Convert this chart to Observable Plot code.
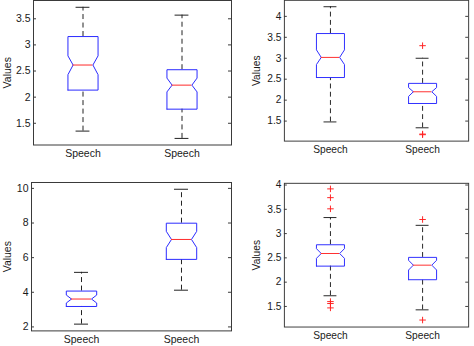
<!DOCTYPE html>
<html><head><meta charset="utf-8">
<script src="https://cdn.jsdelivr.net/npm/d3@7"></script>
<script src="https://cdn.jsdelivr.net/npm/@observablehq/plot@0.6"></script>
<style>
body{margin:0;background:#fff;}
#chart{position:relative;width:474px;height:346px;overflow:hidden;background:#fff;}
#chart > div{position:absolute;}
</style></head><body><div id="chart"></div>
<script>
// ---- data ----
const categories = ["Speech", "Speech"];
const boxPanel    = ["TL", "TL", "TR", "TR", "BL", "BL", "BR", "BR"];
const boxPos      = [1, 2, 1, 2, 1, 2, 1, 2];
const whiskerLow  = [1.35, 1.21, 1.48, 1.34, 2.16, 4.12, 1.72, 1.43];
const q1          = [2.135, 1.77, 2.54, 1.92, 3.18, 5.90, 2.33, 2.05];
const notchLow    = [2.43, 2.10, 2.85, 2.09, 3.38, 6.58, 2.49, 2.25];
const median      = [2.615, 2.23, 3.02, 2.20, 3.61, 7.05, 2.59, 2.35];
const notchHigh   = [2.79, 2.365, 3.20, 2.30, 3.84, 7.52, 2.69, 2.45];
const q3          = [3.16, 2.525, 3.59, 2.40, 4.07, 7.99, 2.77, 2.51];
const whiskerHigh = [3.72, 3.57, 4.23, 3.00, 5.15, 9.95, 3.33, 3.17];

const outlierPanel = ["TR", "TR", "TR", "BR", "BR", "BR", "BR", "BR", "BR", "BR", "BR"];
const outlierPos   = [2, 2, 2, 1, 1, 1, 1, 1, 1, 2, 2];
const outlierValue = [3.30, 1.175, 1.19, 3.92, 3.74, 3.51, 1.60, 1.56, 1.47, 3.29, 1.22];

const yTicksTL = [1.5, 2, 2.5, 3, 3.5];
const yTicksTR = [1.5, 2, 2.5, 3, 3.5, 4];
const yTicksBL = [2, 4, 6, 8, 10];
const yTicksBR = [1.5, 2, 2.5, 3, 3.5, 4];
const yLimTL = [1.084, 3.85];
const yLimTR = [1.022, 4.383];
const yLimBL = [1.77, 10.34];
const yLimBR = [1.076, 4.035];
const yLabel = "Values";

// ---- build tables ----
const boxes = boxPanel.map((p, i) => ({
  panel: p, x: boxPos[i], lo: whiskerLow[i], q1: q1[i], nlo: notchLow[i],
  med: median[i], nhi: notchHigh[i], q3: q3[i], hi: whiskerHigh[i]
}));
const outliers = outlierPanel.map((p, i) => ({panel: p, x: outlierPos[i], v: outlierValue[i]}));

const HW = 0.152, NK = 0.052, CAP = 0.07;
const AX = "#3a3a3a";
const font = "'Liberation Sans', Arial, Helvetica, sans-serif";

function panel(name, frame, domain, ticks, labelDx) {
  const ml = 40, mr = 6, mt = 6, mb = 26;
  const w = frame.right - frame.left, h = frame.bottom - frame.top;
  const bx = boxes.filter(d => d.panel === name);
  const ox = outliers.filter(d => d.panel === name);
  const poly = bx.flatMap(b => [
    [b.x - HW, b.q1], [b.x - HW, b.nlo], [b.x - HW + NK, b.med], [b.x - HW, b.nhi], [b.x - HW, b.q3],
    [b.x + HW, b.q3], [b.x + HW, b.nhi], [b.x + HW - NK, b.med], [b.x + HW, b.nlo], [b.x + HW, b.q1],
    [b.x - HW, b.q1]
  ].map(([x, y]) => ({x, y, id: b.x})));
  const svg = Plot.plot({
    width: w + ml + mr, height: h + mt + mb,
    marginLeft: ml, marginRight: mr, marginTop: mt, marginBottom: mb,
    style: {fontFamily: font, fontSize: "10.5px", color: "#1a1a1a", background: "transparent", overflow: "visible"},
    x: {domain: [0.5, 2.5]},
    y: {domain},
    marks: [
      Plot.axisX([1, 2], {tickSize: 0, tickPadding: 5, tickFormat: i => categories[i - 1], label: null, fontSize: 10.5}),
      Plot.axisY(ticks, {tickSize: 0, tickPadding: 3, tickFormat: d => String(d), label: null, fontSize: 10.5}),
      Plot.tickY(ticks, {y: d => d, insetRight: w - 3, stroke: AX}),
      Plot.tickY(ticks, {y: d => d, insetLeft: w - 3, stroke: AX}),
      Plot.ruleX(bx, {x: "x", y1: "q3", y2: "hi", stroke: "#222", strokeDasharray: "5,3.5"}),
      Plot.ruleX(bx, {x: "x", y1: "lo", y2: "q1", stroke: "#222", strokeDasharray: "5,3.5"}),
      Plot.ruleY(bx, {y: "hi", x1: d => d.x - CAP, x2: d => d.x + CAP, stroke: "#222"}),
      Plot.ruleY(bx, {y: "lo", x1: d => d.x - CAP, x2: d => d.x + CAP, stroke: "#222"}),
      Plot.line(poly, {x: "x", y: "y", z: "id", stroke: "#2a2aff", strokeWidth: 1, strokeLinejoin: "miter"}),
      Plot.ruleY(bx, {y: "med", x1: d => d.x - HW + NK, x2: d => d.x + HW - NK, stroke: "#ff2a2a"}),
      Plot.dot(ox, {x: "x", y: "v", symbol: "plus", r: 2.3, stroke: "#ff2020", strokeWidth: 1}),
      Plot.text([yLabel], {frameAnchor: "left", rotate: -90, dx: labelDx, lineAnchor: "bottom", textAnchor: "middle", fontSize: 10.5, fill: "#1a1a1a"}),
      Plot.frame({stroke: AX})
    ]
  });
  const div = document.createElement("div");
  div.style.left = (frame.left - ml) + "px";
  div.style.top = (frame.top - mt) + "px";
  div.appendChild(svg);
  document.getElementById("chart").appendChild(div);
}

panel("TL", {left: 33, right: 231, top: -0.5, bottom: 144}, yLimTL, yTicksTL, -23);
panel("TR", {left: 285, right: 474.5, top: -0.5, bottom: 144.3}, yLimTR, yTicksTR, -25);
panel("BL", {left: 31, right: 231, top: 182.3, bottom: 330.7}, yLimBL, yTicksBL, -21);
panel("BR", {left: 285, right: 474.5, top: 182.7, bottom: 330.5}, yLimBR, yTicksBR, -25);
</script></body></html>
